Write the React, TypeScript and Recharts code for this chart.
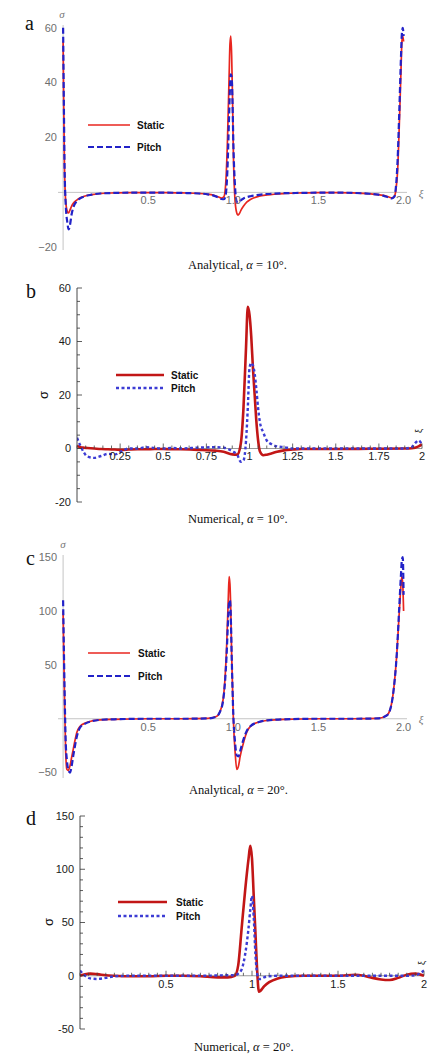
import React from 'react'
import { LineChart, Line, XAxis, YAxis, ReferenceLine } from 'recharts'

// (a) analytical, alpha = 10 deg
const xiA = [
  0, 0.004, 0.008, 0.015, 0.025, 0.032, 0.04, 0.05, 0.06, 0.08,
  0.1, 0.13, 0.17, 0.22, 0.3, 0.4, 0.5, 0.6, 0.7, 0.8,
  0.85, 0.88, 0.91, 0.93, 0.945, 0.955, 0.965, 0.975, 0.98, 0.985,
  0.99, 0.995, 1.0, 1.01, 1.02, 1.027, 1.035, 1.045, 1.06, 1.08,
  1.1, 1.15, 1.2, 1.3, 1.4, 1.5, 1.6, 1.7, 1.8, 1.85,
  1.88, 1.91, 1.93, 1.945, 1.955, 1.965, 1.975, 1.985, 1.99, 1.995,
  2.0,
]
const staticA = [
  55, 30, 10, -3, -7, -7.5, -6.5, -5, -4, -2.8,
  -2, -1.3, -0.8, -0.4, -0.2, -0.1, -0.1, -0.1, -0.2, -0.4,
  -0.7, -1.0, -1.6, -2.1, -1.5, 3, 18, 42, 54, 57,
  50, 35, 15, -3, -7.5, -8.3, -7.8, -6.5, -5, -3.5,
  -2.6, -1.4, -0.9, -0.4, -0.2, -0.1, -0.1, -0.2, -0.5, -0.8,
  -1.1, -1.6, -2.0, -1.5, 1, 8, 25, 45, 55, 57,
  55,
]
const pitchA = [
  60, 35, 12, -4, -11, -13.5, -12, -8, -5.5, -3.2,
  -2.2, -1.4, -0.8, -0.4, -0.2, -0.1, -0.1, -0.1, -0.2, -0.4,
  -0.7, -1.1, -1.8, -2.4, -2.5, -1, 8, 28, 38, 43,
  42, 33, 18, 2, -3.5, -3.8, -3.3, -2.8, -2.2, -1.7,
  -1.4, -0.9, -0.6, -0.3, -0.2, -0.1, -0.1, -0.2, -0.5, -0.8,
  -1.2, -1.8, -2.2, -1.6, 2, 12, 30, 50, 58, 60,
  57,
]

// (b) numerical, alpha = 10 deg
const xiB = [
  0, 0.02, 0.04, 0.06, 0.1, 0.14, 0.18, 0.22, 0.26, 0.3,
  0.35, 0.4, 0.45, 0.5, 0.55, 0.6, 0.7, 0.8, 0.85, 0.9,
  0.93, 0.95, 0.965, 0.98, 0.99, 1.0, 1.01, 1.02, 1.03, 1.04,
  1.05, 1.06, 1.08, 1.1, 1.13, 1.16, 1.2, 1.25, 1.3, 1.5,
  1.7, 1.9, 1.94, 1.96, 1.98, 2.0,
]
const staticB = [
  1, 0.5, 0.3, 0.2, 0, -0.2, -0.3, -0.4, -0.5, -0.4,
  -0.3, -0.3, -0.2, -0.2, -0.3, -0.3, -0.5, -0.8, -1.2, -2.2,
  -2.3, 2, 15, 38, 53, 50, 42, 30, 20, 10,
  3, -1, -2.5, -2.3, -1.8, -1.2, -0.7, -0.4, -0.2, -0.2,
  -0.1, 0, 0.1, 0.3, 0.8, 1.5,
]
const pitchB = [
  4, 1, -1.5, -3, -3.5, -2.8, -2, -2.2, -1, 0,
  0, 0.5, 0.2, 0, 0.2, 0, 0.3, 0.5, 0.3, -1,
  -2.5, -5, -4.5, 3, 15, 30, 32, 31, 28, 22,
  15, 10, 6, 3, 1.5, 0.8, 0.5, 0, 0, 0,
  0, 0, 0.5, 2, 3, 1.5,
]

// (c) analytical, alpha = 20 deg
const xiC = [
  0, 0.005, 0.01, 0.015, 0.022, 0.03, 0.04, 0.05, 0.06, 0.07,
  0.08, 0.1, 0.13, 0.17, 0.22, 0.3, 0.5, 0.7, 0.85, 0.9,
  0.92, 0.94, 0.95, 0.96, 0.97, 0.975, 0.98, 0.985, 0.99, 1.0,
  1.01, 1.02, 1.03, 1.04, 1.06, 1.08, 1.1, 1.15, 1.2, 1.3,
  1.5, 1.7, 1.85, 1.9, 1.92, 1.94, 1.96, 1.975, 1.985, 1.99,
  1.995, 2.0,
]
const staticC = [
  100, 50, 5, -30, -47, -48, -44, -36, -28, -20,
  -13, -7, -4, -2, -1, -0.5, 0, 0, 0.3, 2,
  6, 18, 35, 65, 110, 132, 125, 100, 60, 0,
  -30, -47, -44, -35, -22, -12, -7, -3, -1.5, -0.5,
  0, 0, 0.3, 3, 8, 25, 60, 100, 125, 132,
  125, 100,
]
const pitchC = [
  110, 60, 15, -20, -38, -47, -50, -44, -34, -25,
  -17, -8, -4.5, -2.2, -1, -0.5, 0, 0, 0.3, 2,
  6, 17, 32, 58, 95, 108, 110, 95, 60, 3,
  -22, -34, -35, -30, -19, -11, -7, -3, -1.5, -0.5,
  0, 0, 0.3, 3, 8, 25, 60, 105, 135, 148,
  150, 115,
]

// (d) numerical, alpha = 20 deg
const xiD = [
  0, 0.03, 0.06, 0.1, 0.15, 0.2, 0.3, 0.4, 0.5, 0.6,
  0.7, 0.8, 0.86, 0.9, 0.92, 0.94, 0.96, 0.98, 0.99, 1.0,
  1.01, 1.02, 1.03, 1.04, 1.05, 1.07, 1.1, 1.15, 1.2, 1.3,
  1.5, 1.6, 1.65, 1.7, 1.75, 1.8, 1.85, 1.9, 1.95, 2.0,
]
const staticD = [
  0, 1.5, 2, 1.5, 0.5, 0, -0.5, -0.5, 0, 0,
  -0.5, -1.5, -1.5, 0, 10, 45, 80, 110, 122, 110,
  75, 40, 5, -15, -14, -10, -6, -2.5, -1, 0,
  0, 1, 0, -2, -3.5, -4, -2, 1, 2, 0,
]
const pitchD = [
  5, 0, -2.5, -3, -2, -0.5, 0, 0, 0, 0,
  0, 0.3, 0.5, 0.5, 2, 6, 20, 45, 62, 75,
  55, 20, 2, -3, -3, -1.5, -0.5, 0, 0, 0,
  0, 0, 0, 0, 0, 0, 0, 0, 0.5, 5,
]

// tick labels
const xLabelsMath = [0.5, 1.0, 1.5, 2.0]
const yLabelsA = [-20, 20, 40, 60]
const yLabelsC = [-50, 50, 100, 150]
const xLabelsB = [0.25, 0.5, 0.75, 1, 1.25, 1.5, 1.75, 2]
const yLabelsB = [-20, 0, 20, 40, 60]
const xLabelsD = [0.5, 1, 1.5, 2]
const yLabelsD = [-50, 0, 50, 100, 150]

const steps = (lo: number, hi: number, step: number) => {
  const out: number[] = []
  for (let i = 0; lo + i * step <= hi + 1e-9; i++) out.push(+(lo + i * step).toFixed(4))
  return out
}

const toRows = (xi: number[], s: number[], p: number[]) =>
  xi.map((x, i) => ({ xi: x, s: s[i], p: p[i] }))

const SANS = 'Liberation Sans, Arial, sans-serif'
const SERIF = 'Liberation Serif, DejaVu Serif, serif'
const W = 445

const has = (arr: number[], v: number) => arr.some((a) => Math.abs(a - v) < 1e-6)

interface PanelProps {
  kind: 'math' | 'tec'
  top: number
  height: number
  plotTop: number
  plotBottom: number
  plotLeft: number
  plotRight: number
  xDomain: [number, number]
  yDomain: [number, number]
  rows: { xi: number; s: number; p: number }[]
  xTicks: number[]
  xLabels: number[]
  yTicks: number[]
  yLabels: number[]
}

function Panel(props: PanelProps) {
  const { kind, top, height, plotTop, plotBottom, plotLeft, plotRight, xDomain, yDomain, rows, xTicks, xLabels, yTicks, yLabels } = props
  const math = kind === 'math'
  // pixel row of sigma = 0, where the horizontal axis sits
  const zeroY = plotTop + (yDomain[1] / (yDomain[1] - yDomain[0])) * (plotBottom - plotTop)
  const labelColor = math ? '#6e6e6e' : '#1a1a1a'

  const XTick = (p: any) => {
    const v = p.payload.value
    const major = has(xLabels, v)
    return (
      <g>
        {!math && (
          <line x1={p.x} x2={p.x} y1={zeroY} y2={zeroY - (major ? 5 : 3)} stroke="#444" strokeWidth={0.8} />
        )}
        {major && (
          <text x={p.x} y={zeroY + 4} dy="0.71em" textAnchor="middle" fontSize={11} fill={labelColor} fontFamily={SANS}>
            {math ? v.toFixed(1) : String(v)}
          </text>
        )}
      </g>
    )
  }

  const YTick = (p: any) => {
    const v = p.payload.value
    const major = has(yLabels, v)
    return (
      <g>
        {!math && (
          <line x1={p.x} x2={p.x + (major ? 5 : 3)} y1={p.y} y2={p.y} stroke="#333" strokeWidth={0.8} />
        )}
        {major && (
          <text x={math ? p.x - 1 : p.x - 6} y={p.y} dy="0.35em" textAnchor="end" fontSize={11} fill={labelColor} fontFamily={SANS}>
            {math ? String(v).replace('-', '\u2212') : String(v)}
          </text>
        )}
      </g>
    )
  }

  return (
    <div style={{ position: 'absolute', left: 0, top, width: W, height }}>
      <LineChart
        width={W}
        height={height}
        data={rows}
        margin={{ top: plotTop, right: W - plotRight, left: 0, bottom: 0 }}
      >
        <XAxis
          dataKey="xi"
          type="number"
          domain={xDomain}
          allowDataOverflow
          ticks={xTicks}
          interval={0}
          axisLine={false}
          tickLine={false}
          tickSize={0}
          tickMargin={0}
          height={height - plotBottom}
          tick={XTick}
        />
        <YAxis
          type="number"
          domain={yDomain}
          allowDataOverflow
          ticks={yTicks}
          interval={0}
          width={plotLeft}
          axisLine={math ? false : { stroke: '#333', strokeWidth: 0.9 }}
          tickLine={false}
          tickSize={0}
          tickMargin={0}
          tick={YTick}
        />
        {math && <ReferenceLine x={0} stroke="#c4c4c4" strokeWidth={1} />}
        <ReferenceLine y={0} stroke={math ? '#c4c4c4' : '#9a9a9a'} strokeWidth={1} />
        <Line
          dataKey="s"
          type="monotone"
          dot={false}
          stroke={math ? '#e8261f' : '#c21616'}
          strokeWidth={math ? 1.7 : 2.6}
          isAnimationActive={false}
        />
        <Line
          dataKey="p"
          type="monotone"
          dot={false}
          stroke={math ? '#2222c8' : '#3c3cd4'}
          strokeWidth={math ? 2.2 : 2.4}
          strokeDasharray={math ? '6 3' : '3 2.5'}
          isAnimationActive={false}
        />
      </LineChart>
    </div>
  )
}

function LegendBox({ x1, x2, y1, y2, tx, math }: { x1: number; x2: number; y1: number; y2: number; tx: number; math: boolean }) {
  return (
    <g>
      <line x1={x1} x2={x2} y1={y1} y2={y1} stroke={math ? '#e8261f' : '#c21616'} strokeWidth={math ? 1.7 : 2.6} />
      <line
        x1={x1} x2={x2} y1={y2} y2={y2}
        stroke={math ? '#2222c8' : '#3c3cd4'}
        strokeWidth={math ? 2.2 : 2.4}
        strokeDasharray={math ? '6 3' : '3 2.5'}
      />
      <text x={tx} y={y1} dy="0.35em" fontSize={10} fontWeight="bold" fontFamily={SANS} fill="#111">Static</text>
      <text x={tx} y={y2} dy="0.35em" fontSize={10} fontWeight="bold" fontFamily={SANS} fill="#111">Pitch</text>
    </g>
  )
}

function Caption({ x, y, kind, deg }: { x: number; y: number; kind: string; deg: number }) {
  return (
    <text x={x} y={y} fontSize={12.5} fontFamily={SERIF} fill="#111">
      {kind}, <tspan fontStyle="italic">α</tspan> = {deg}°.
    </text>
  )
}

export default function App() {
  return (
    <div style={{ position: 'absolute', left: 0, top: 0, width: W, height: 1057, background: '#fff', overflow: 'hidden' }}>
      <Panel
        kind="math" top={0} height={262} plotTop={25} plotBottom={250} plotLeft={58} plotRight={407}
        xDomain={[-0.03, 2.02]} yDomain={[-21, 61]} rows={toRows(xiA, staticA, pitchA)}
        xTicks={xLabelsMath} xLabels={xLabelsMath} yTicks={yLabelsA} yLabels={yLabelsA}
      />
      <Panel
        kind="tec" top={270} height={245} plotTop={18} plotBottom={232} plotLeft={77} plotRight={422}
        xDomain={[0, 2]} yDomain={[-20, 60]} rows={toRows(xiB, staticB, pitchB)}
        xTicks={steps(0, 2, 0.05)} xLabels={xLabelsB} yTicks={steps(-20, 60, 5)} yLabels={yLabelsB}
      />
      <Panel
        kind="math" top={530} height={255} plotTop={25} plotBottom={248} plotLeft={58} plotRight={407}
        xDomain={[-0.03, 2.02]} yDomain={[-55, 152]} rows={toRows(xiC, staticC, pitchC)}
        xTicks={xLabelsMath} xLabels={xLabelsMath} yTicks={yLabelsC} yLabels={yLabelsC}
      />
      <Panel
        kind="tec" top={795} height={245} plotTop={21} plotBottom={234} plotLeft={80} plotRight={424}
        xDomain={[0, 2]} yDomain={[-50, 150]} rows={toRows(xiD, staticD, pitchD)}
        xTicks={steps(0, 2, 0.05)} xLabels={xLabelsD} yTicks={steps(-50, 150, 10)} yLabels={yLabelsD}
      />
      <svg width={W} height={1057} style={{ position: 'absolute', left: 0, top: 0, pointerEvents: 'none' }}>
        {/* panel letters */}
        <text x={25} y={30} fontSize={20} fontFamily={SERIF} fill="#111">a</text>
        <text x={26} y={298} fontSize={20} fontFamily={SERIF} fill="#111">b</text>
        <text x={26} y={565} fontSize={20} fontFamily={SERIF} fill="#111">c</text>
        <text x={26} y={825} fontSize={20} fontFamily={SERIF} fill="#111">d</text>

        {/* axis titles */}
        <text x={62} y={18} fontSize={11} fontStyle="italic" fontFamily={SERIF} fill="#777" textAnchor="middle">σ</text>
        <text x={421} y={197} fontSize={11} fontStyle="italic" fontFamily={SERIF} fill="#777" textAnchor="middle">ξ</text>
        <text x={63} y={548} fontSize={11} fontStyle="italic" fontFamily={SERIF} fill="#777" textAnchor="middle">σ</text>
        <text x={421} y={723} fontSize={11} fontStyle="italic" fontFamily={SERIF} fill="#777" textAnchor="middle">ξ</text>
        <text x={43} y={395} dy="0.35em" fontSize={13} fontFamily={SANS} fill="#111" textAnchor="middle" transform="rotate(-90 43 395)">σ</text>
        <text x={419} y={431} dy="0.35em" fontSize={9} fontFamily={SANS} fill="#111" textAnchor="middle" transform="rotate(-90 419 431)">ξ</text>
        <text x={48} y={922} dy="0.35em" fontSize={13} fontFamily={SANS} fill="#111" textAnchor="middle" transform="rotate(-90 48 922)">σ</text>
        <text x={422} y={963} dy="0.35em" fontSize={9} fontFamily={SANS} fill="#111" textAnchor="middle" transform="rotate(-90 422 963)">ξ</text>

        {/* legends */}
        <LegendBox math x1={88} x2={130} y1={125} y2={147} tx={137} />
        <LegendBox math={false} x1={116} x2={164} y1={375} y2={388} tx={171} />
        <LegendBox math x1={88} x2={130} y1={653} y2={676} tx={138} />
        <LegendBox math={false} x1={118} x2={167} y1={902} y2={916} tx={176} />

        {/* captions */}
        <Caption x={188} y={269} kind="Analytical" deg={10} />
        <Caption x={188} y={523} kind="Numerical" deg={10} />
        <Caption x={189} y={794} kind="Analytical" deg={20} />
        <Caption x={194} y={1051} kind="Numerical" deg={20} />
      </svg>
    </div>
  )
}
